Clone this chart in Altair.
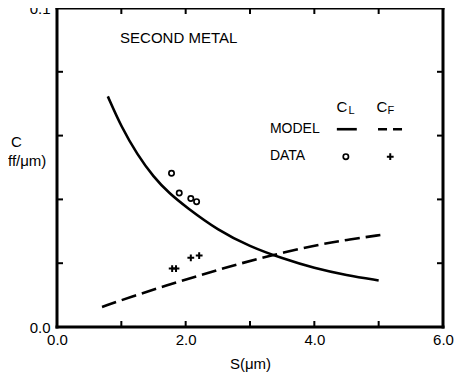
import altair as alt
import pandas as pd

# ---- data ----
cl_s = [0.79, 1.0, 1.25, 1.5, 1.75, 2.0, 2.5, 3.0, 3.5, 4.0, 4.5, 5.0]
cl_c = [0.0723, 0.0627, 0.0540, 0.0470, 0.0418, 0.0377, 0.0303, 0.0252, 0.0215, 0.0184, 0.0162, 0.0146]

cf_s = [0.70, 1.2, 1.7, 2.2, 2.7, 3.3, 4.0, 4.5, 5.05]
cf_c = [0.0063, 0.0098, 0.0130, 0.0161, 0.0191, 0.0223, 0.0256, 0.0273, 0.0289]

circ_s = [1.78, 1.90, 2.08, 2.17]
circ_c = [0.0482, 0.0420, 0.0403, 0.0393]

plus_s = [1.79, 1.85, 2.08, 2.21]
plus_c = [0.0183, 0.0183, 0.0217, 0.0224]

x_ticks = [1, 2, 3, 4, 5]
y_ticks = [0.02, 0.04, 0.06, 0.08]
x_labels = [0, 2, 4, 6]
y_labels = [0, 0.1]

W, H = 386, 319
FONT = "Liberation Sans"

xscale = alt.Scale(domain=[0, 6], nice=False, zero=False)
yscale = alt.Scale(domain=[0, 0.1], nice=False, zero=False)
xaxis = alt.Axis(values=x_labels, format=".1f", title="S(\u03bcm)", domain=False, ticks=False,
                 tickSize=0, grid=False, labelPadding=5, labelFlush=False, labelFontSize=15,
                 titleFontSize=15, titleFontWeight="normal", titlePadding=9, labelColor="black",
                 titleColor="black", labelFont=FONT, titleFont=FONT)
yaxis = alt.Axis(values=y_labels, format=".1f", title=None, domain=False, ticks=False,
                 tickSize=0, grid=False, labelPadding=7, labelFlush=False, labelFontSize=15,
                 labelColor="black", labelFont=FONT)


def X(f):
    return alt.X(f"{f}:Q", scale=xscale, axis=xaxis)


def Y(f):
    return alt.Y(f"{f}:Q", scale=yscale, axis=yaxis)


cl = pd.DataFrame({"s": cl_s, "c": cl_c})
cf = pd.DataFrame({"s": cf_s, "c": cf_c})
circ = pd.DataFrame({"s": circ_s, "c": circ_c})
plus = pd.DataFrame({"s": plus_s, "c": plus_c})

solid = alt.Chart(cl).mark_line(color="black", strokeWidth=2.6, interpolate="basis").encode(x=X("s"), y=Y("c"))
dashed = alt.Chart(cf).mark_line(color="black", strokeWidth=2.6, strokeDash=[15, 6],
                                  interpolate="basis").encode(x=X("s"), y=Y("c"))
circles = alt.Chart(circ).mark_point(shape="circle", size=28, color="black", strokeWidth=1.7,
                                     filled=False, opacity=1).encode(x=X("s"), y=Y("c"))
PLUS = "M-1,0L1,0M0,-1L0,1"
pluses = alt.Chart(plus).mark_point(shape=PLUS, size=46, color="black", strokeWidth=2,
                                    filled=False, opacity=1).encode(x=X("s"), y=Y("c"))

# frame (four rules) and inward ticks
one = pd.DataFrame({"s": [0]})
FW = 3
f_left = alt.Chart(one).mark_rule(color="black", strokeWidth=FW).encode(
    x=alt.value(0), y=alt.value(-1.5), y2=alt.value(H + 1.5))
f_right = alt.Chart(one).mark_rule(color="black", strokeWidth=FW).encode(
    x=alt.value(W), y=alt.value(-1.5), y2=alt.value(H + 1.5))
f_top = alt.Chart(one).mark_rule(color="black", strokeWidth=FW).encode(
    y=alt.value(0), x=alt.value(-1.5), x2=alt.value(W + 1.5))
f_bot = alt.Chart(one).mark_rule(color="black", strokeWidth=FW).encode(
    y=alt.value(H), x=alt.value(-1.5), x2=alt.value(W + 1.5))

xt = pd.DataFrame({"t": x_ticks})
yt = pd.DataFrame({"t": y_ticks})
tb = alt.Chart(xt).mark_rule(color="black", strokeWidth=2).encode(x=X("t"), y=alt.value(H), y2=alt.value(H - 6))
tt = alt.Chart(xt).mark_rule(color="black", strokeWidth=2).encode(x=X("t"), y=alt.value(0), y2=alt.value(6))
tl = alt.Chart(yt).mark_rule(color="black", strokeWidth=2).encode(y=Y("t"), x=alt.value(0), x2=alt.value(6))
tr = alt.Chart(yt).mark_rule(color="black", strokeWidth=2).encode(y=Y("t"), x=alt.value(W), x2=alt.value(W - 6))

# annotations
left_txt = pd.DataFrame({
    "label": ["SECOND METAL", "MODEL", "DATA"],
    "s": [0.98, 3.31, 3.31],
    "c": [0.0907, 0.0620, 0.0536],
    "fs": [15, 14, 14],
})
t_left = alt.Chart(left_txt).mark_text(align="left", baseline="middle", font=FONT, color="black").encode(
    x=X("s"), y=Y("c"), text="label:N", size=alt.Size("fs:Q", scale=None))

sym_txt = pd.DataFrame({
    "label": ["C", "L", "C", "F"],
    "s": [4.43, 4.58, 5.05, 5.19],
    "c": [0.0690, 0.0677, 0.0690, 0.0677],
    "fs": [15, 11, 15, 11],
})
t_sym = alt.Chart(sym_txt).mark_text(align="center", baseline="middle", font=FONT, color="black").encode(
    x=X("s"), y=Y("c"), text="label:N", size=alt.Size("fs:Q", scale=None))

leg_solid = alt.Chart(pd.DataFrame({"s": [4.35, 4.66], "c": [0.0620, 0.0620]})).mark_line(
    color="black", strokeWidth=2.6).encode(x=X("s"), y=Y("c"))
leg_dash = alt.Chart(pd.DataFrame({"s": [4.99, 5.38], "c": [0.0620, 0.0620]})).mark_line(
    color="black", strokeWidth=2.6, strokeDash=[9, 6]).encode(x=X("s"), y=Y("c"))
leg_circ = alt.Chart(pd.DataFrame({"s": [4.49], "c": [0.0534]})).mark_point(
    shape="circle", size=28, color="black", strokeWidth=1.7, filled=False, opacity=1).encode(x=X("s"), y=Y("c"))
leg_plus = alt.Chart(pd.DataFrame({"s": [5.18], "c": [0.0534]})).mark_point(
    shape=PLUS, size=46, color="black", strokeWidth=2, filled=False, opacity=1).encode(x=X("s"), y=Y("c"))

# y axis title
ytitle = alt.Chart(pd.DataFrame({"label": ["C", "ff/\u03bcm)"], "px": [-46, -49], "py": [134, 153]})).mark_text(
    align="left", baseline="middle", font=FONT, fontSize=15, color="black").encode(
    x=alt.X("px:Q", scale=None), y=alt.Y("py:Q", scale=None), text="label:N")

chart = alt.layer(
    solid, dashed, circles, pluses, f_left, f_right, f_top, f_bot, tb, tt, tl, tr, t_left, t_sym,
    leg_solid, leg_dash, leg_circ, leg_plus, ytitle,
).properties(
    width=W, height=H, autosize="none",
    padding={"left": 49, "top": 0, "right": 20, "bottom": 60},
).configure_view(stroke=None).configure(font=FONT, background="white")

chart.save("out.html", embed_options={"renderer": "svg", "actions": False})
